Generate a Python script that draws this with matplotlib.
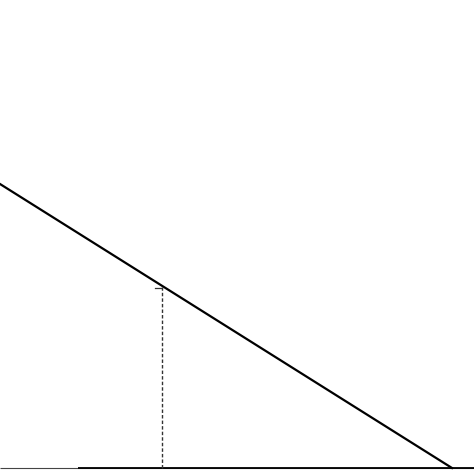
import matplotlib
matplotlib.use("Agg")
import matplotlib.pyplot as plt

# data (pixel-like units, y measured up from the baseline)
line_x = [0, 452]
line_y = [284, 0]
marker_x = [162]
marker_top = [181]
base_x_thin = [0, 474]
base_x_thick = [78, 474]

fig = plt.figure(figsize=(4.74, 4.74), dpi=100)
ax = fig.add_axes([0, 0, 1, 1])
ax.set_xlim(0, 474)
ax.set_ylim(-6, 468)
ax.axis("off")

ax.plot(base_x_thin, [0, 0], color="#444444", lw=0.8, solid_capstyle="butt")
ax.plot(base_x_thick, [0, 0], color="black", lw=1.3, solid_capstyle="butt")
ax.plot(line_x, line_y, color="black", lw=1.6)
for mx, mt in zip(marker_x, marker_top):
    ax.plot([mx, mx], [0, mt], color="#333333", lw=1.0, ls=(0, (2.5, 1.5)))
    ax.plot([mx - 7, mx], [mt - 0.5, mt - 0.5], color="#333333", lw=0.9)

fig.savefig("out.png", dpi=100)
